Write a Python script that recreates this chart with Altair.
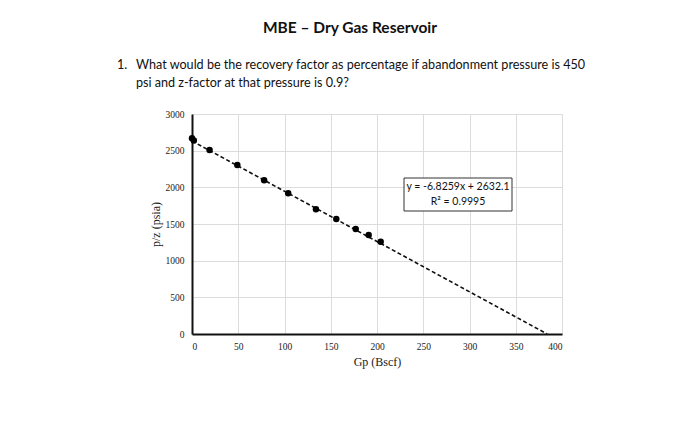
import altair as alt
import pandas as pd

# Data
gp = [0, 2, 19, 49, 78, 104, 134, 156, 177, 191, 204]
pz = [2670, 2640, 2510, 2305, 2097, 1919, 1701, 1569, 1432, 1351, 1259]
trend_x = [0, 384]
trend_y = [2632.1, 0]
x_ticks = [0, 50, 100, 150, 200, 250, 300, 350, 400]
y_ticks = [0, 500, 1000, 1500, 2000, 2500, 3000]

title_text = "MBE \u2013 Dry Gas Reservoir"
q_num = "1."
q_lines = ["What would be the recovery factor as percentage if abandonment pressure is 450",
           "psi and z-factor at that pressure is 0.9?"]
eq_lines = ["y = -6.8259x + 2632.1", "R\u00b2 = 0.9995"]

pts = pd.DataFrame({"gp": gp, "pz": pz})
trend = pd.DataFrame({"gp": trend_x, "pz": trend_y})

serif = "Liberation Serif"
sans = "Lato"

xs = alt.Scale(domain=[0, 400], nice=False)
ys = alt.Scale(domain=[0, 3000], nice=False)

xaxis = alt.Axis(values=x_ticks, title="Gp (Bscf)", ticks=False, labelPadding=7,
                 format="d", labelOverlap=False,
                 labelFont=serif, labelFontSize=9.5, labelColor="#1a1a1a",
                 titleFont=serif, titleFontSize=12, titleFontWeight="normal",
                 titleColor="#1a1a1a", titlePadding=6, domainColor="#111", domainWidth=2,
                 gridColor="#dcdcdc", grid=True)
yaxis = alt.Axis(values=y_ticks, title="p/z (psia)", ticks=False, labelPadding=8,
                 format="d", labelOverlap=False,
                 labelFont=serif, labelFontSize=9.5, labelColor="#1a1a1a",
                 titleFont=serif, titleFontSize=12, titleFontWeight="normal",
                 titleColor="#1a1a1a", titlePadding=3, domainColor="#111", domainWidth=2,
                 gridColor="#dcdcdc", grid=True)

line = alt.Chart(trend).mark_line(color="#111", strokeDash=[4, 2.5], strokeWidth=1.6).encode(
    x=alt.X("gp:Q", scale=xs, axis=xaxis),
    y=alt.Y("pz:Q", scale=ys, axis=yaxis),
)
dots = alt.Chart(pts).mark_circle(color="#000", opacity=1, size=42).encode(
    x=alt.X("gp:Q", scale=xs, axis=xaxis),
    y=alt.Y("pz:Q", scale=ys, axis=yaxis),
)

box = alt.Chart(pd.DataFrame({"a": [0]})).mark_rect(
    fill="white", stroke="#333", strokeWidth=1).encode(
    x=alt.value(212), x2=alt.value(320), y=alt.value(64), y2=alt.value(97))
eq1 = alt.Chart(pd.DataFrame({"t": [eq_lines[0]]})).mark_text(
    font=sans, fontSize=10.5, color="#111", align="center", baseline="middle").encode(
    text="t:N", x=alt.value(266), y=alt.value(73))
eq2 = alt.Chart(pd.DataFrame({"t": [eq_lines[1]]})).mark_text(
    font=sans, fontSize=10.5, color="#111", align="center", baseline="middle").encode(
    text="t:N", x=alt.value(266), y=alt.value(87.5))

head = alt.Chart(pd.DataFrame({"t": [title_text]})).mark_text(
    font=sans, fontSize=15.5, fontWeight="bold", color="#111", align="center",
    baseline="middle").encode(text="t:N", x=alt.value(158), y=alt.value(-86))
num = alt.Chart(pd.DataFrame({"t": [q_num]})).mark_text(
    font=sans, fontSize=12.6, color="#111", align="left", baseline="middle").encode(
    text="t:N", x=alt.value(-75), y=alt.value(-49))
ql1 = alt.Chart(pd.DataFrame({"t": [q_lines[0]]})).mark_text(
    font=sans, fontSize=12.6, color="#111", align="left", baseline="middle").encode(
    text="t:N", x=alt.value(-56), y=alt.value(-49))
ql2 = alt.Chart(pd.DataFrame({"t": [q_lines[1]]})).mark_text(
    font=sans, fontSize=12.6, color="#111", align="left", baseline="middle").encode(
    text="t:N", x=alt.value(-56), y=alt.value(-31))

chart = alt.layer(line, dots, box, eq1, eq2, head, num, ql1, ql2).properties(
    width=370, height=220,
    autosize=alt.AutoSizeParams(type="none"),
    padding={"left": 192, "top": 114, "right": 138, "bottom": 91},
    background="white",
).configure_view(stroke=None)

chart.save("out.html", embed_options={"renderer": "svg", "actions": False})
